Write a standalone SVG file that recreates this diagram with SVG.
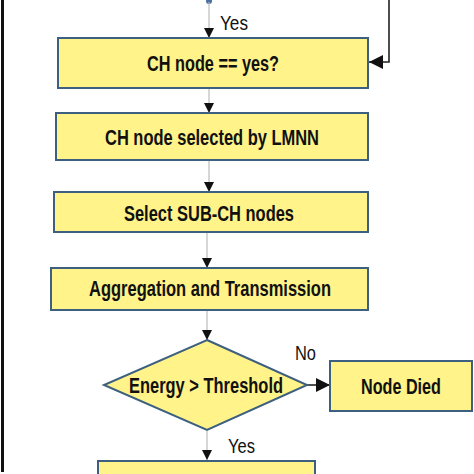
<svg xmlns="http://www.w3.org/2000/svg" width="474" height="474" viewBox="0 0 474 474">
<defs>
<style>
.box{fill:#fff389;stroke:#3d5f80;stroke-width:2}
.t{font-family:"Liberation Sans",Arial,sans-serif;font-weight:bold;font-size:21.5px;fill:#111;text-anchor:middle}
.lbl{font-family:"Liberation Sans",Arial,sans-serif;font-size:20px;fill:#111}
.c{stroke:#bbbbbb;stroke-width:1.2;fill:none}
.cd{stroke:#222;stroke-width:1.6;fill:none}
</style>
<marker id="ah" viewBox="0 0 10 10" refX="10" refY="5" markerWidth="10" markerHeight="10" markerUnits="userSpaceOnUse" orient="auto">
<path d="M0,0 L10,5 L0,10 Z" fill="#111"/>
</marker>
<marker id="ah2" viewBox="0 0 12 12" refX="12" refY="6" markerWidth="14" markerHeight="14" markerUnits="userSpaceOnUse" orient="auto">
<path d="M0,0 L12,6 L0,12 Z" fill="#111"/>
</marker>
</defs>
<rect x="0" y="0" width="474" height="474" fill="#ffffff"/>
<line x1="2.5" y1="0" x2="2.5" y2="472" stroke="#111" stroke-width="3"/>
<g id="connectors">
<circle cx="209" cy="1" r="3" fill="#4a6fa0"/>
<line class="c" x1="209" y1="2" x2="209" y2="38" marker-end="url(#ah)"/>
<polyline class="cd" points="389,0 389,62 369,62" marker-end="url(#ah2)"/>
<line class="c" x1="209" y1="89" x2="209" y2="113" marker-end="url(#ah)"/>
<line class="c" x1="209" y1="161" x2="209" y2="192" marker-end="url(#ah)"/>
<line class="c" x1="207" y1="233" x2="207" y2="268" marker-end="url(#ah)"/>
<line class="c" x1="207" y1="311" x2="207" y2="340" marker-end="url(#ah)"/>
<line class="cd" x1="307" y1="385" x2="330" y2="385" marker-end="url(#ah2)"/>
<line class="c" x1="207" y1="431" x2="207" y2="460" marker-end="url(#ah)"/>
<text class="lbl" x="220" y="30" textLength="28" lengthAdjust="spacingAndGlyphs">Yes</text>
<text class="lbl" x="295" y="360" textLength="21" lengthAdjust="spacingAndGlyphs">No</text>
<text class="lbl" x="228" y="453" textLength="27" lengthAdjust="spacingAndGlyphs">Yes</text>
</g>
<g id="n1"><rect class="box" x="58" y="38" width="310" height="50"/><text class="t" x="213" y="71" textLength="132" lengthAdjust="spacingAndGlyphs">CH node == yes?</text></g>
<g id="n2"><rect class="box" x="56" y="113" width="312" height="47"/><text class="t" x="212" y="145" textLength="214" lengthAdjust="spacingAndGlyphs">CH node selected by LMNN</text></g>
<g id="n3"><rect class="box" x="54" y="192" width="314" height="40"/><text class="t" x="209" y="221" textLength="170" lengthAdjust="spacingAndGlyphs">Select SUB-CH nodes</text></g>
<g id="n4"><rect class="box" x="51" y="268" width="317" height="42"/><text class="t" x="210" y="296" textLength="242" lengthAdjust="spacingAndGlyphs">Aggregation and Transmission</text></g>
<g id="n5"><polygon class="box" points="207,340 307,385 207,430 104,385"/><text class="t" x="206" y="393" textLength="154" lengthAdjust="spacingAndGlyphs">Energy &gt; Threshold</text></g>
<g id="n6"><rect class="box" x="330" y="361" width="142" height="50"/><text class="t" x="401" y="394" textLength="80" lengthAdjust="spacingAndGlyphs">Node Died</text></g>
<g id="n7"><rect class="box" x="98" y="461" width="217" height="20"/></g>
</svg>
